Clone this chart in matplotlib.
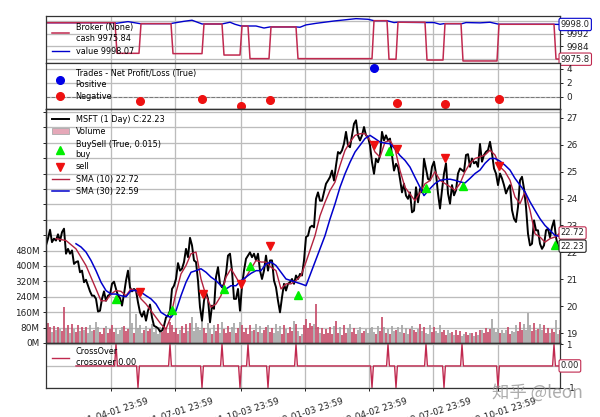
import matplotlib
matplotlib.use('Agg')
import matplotlib.pyplot as plt
import numpy as np
from matplotlib.patches import Patch
from matplotlib.transforms import Bbox, TransformedBbox, IdentityTransform

close = [22.26,22.51,22.84,22.38,22.51,22.44,22.67,22.42,22.75,22.88,21.95,22.13,21.95,22.07,21.57,21.64,21.67,21.26,21.32,20.89,
20.98,20.76,20.55,20.39,20.39,20.27,19.80,19.83,20.27,20.55,20.2,20.39,20.43,20.83,20.91,20.64,20.39,20.3,20.02,20.45,
20.95,21.32,20.7,20.55,20.64,20.58,20.14,19.77,19.61,19.81,19.46,19.83,20.06,19.58,19.27,19.23,19.18,19.06,19.09,19.27,
19.58,19.65,19.83,20.64,20.76,21.01,
21.6,21.32,21.39,21.64,22.13,21.82,22.54,22.26,21.7,21.64,20.95,19.96,19.46,20.2,20.52,20.27,19.4,20.02,19.9,21.08,
21.45,20.83,20.7,20.83,21.2,21.88,21.95,21.32,20.27,20.27,20.64,19.83,20.76,21.32,21.76,21.88,22.0,21.82,21.95,21.7,
21.95,21.32,21.01,21.32,21.88,21.32,21.7,21.7,20.95,20.7,20.2,19.77,20.33,20.83,20.58,20.83,20.89,21.01,20.83,21.14,
21.01,21.2,21.14,21.7,22.57,
22.62,22.93,22.99,22.93,23.99,24.23,23.92,23.92,24.23,24.55,24.67,24.8,25.04,24.67,25.23,25.73,25.67,25.79,26.04,26.48,
25.98,25.91,26.35,26.78,26.91,26.35,26.16,26.35,26.66,26.35,26.29,25.98,25.35,24.92,25.48,25.35,25.6,26.48,26.16,26.35,
26.16,26.23,25.6,25.04,25.29,25.17,24.73,24.23,24.55,24.11,23.99,24.23,23.49,23.55,24.42,23.86,24.36,24.23,25.48,25.1,
24.73,
24.68,25.18,25.37,24.93,24.19,23.63,24.31,24.93,25.31,24.19,23.81,24.5,24.12,24.31,24.93,25.12,25.06,25.0,25.62,25.65,
25.18,25.49,25.31,25.37,25.18,26.03,25.37,25.62,25.74,25.8,26.11,25.68,25.12,24.93,24.5,24.93,24.75,24.5,24.19,24.37,
24.5,23.57,23.25,23.13,23.69,24.68,24.81,24.37,23.69,22.69,22.26,22.32,23.19,22.82,22.82,22.32,22.13,22.26,22.82,22.88,
22.56,22.94,23.19,22.56,22.2,22.23]

volume_m = [60,105,85,55,90,70,85,75,60,185,80,95,50,100,75,55,95,60,85,70,
85,50,95,60,70,110,85,55,45,80,90,50,75,95,55,80,45,65,85,90,
60,75,395,105,50,150,80,95,50,70,90,60,75,100,55,90,45,85,55,95,
80,50,110,95,55,80,45,70,90,50,100,60,105,135,60,105,85,65,135,80,
50,105,75,45,95,60,100,50,110,75,50,90,55,85,105,50,80,110,95,55,
80,45,95,60,70,100,55,90,50,65,85,95,55,80,50,100,60,90,45,95,
75,50,85,60,115,100,60,35,45,95,125,80,105,90,100,205,85,50,80,45,
75,50,85,45,90,115,50,85,40,95,50,80,100,55,80,45,70,85,50,60,
75,50,80,85,55,45,90,60,133,85,50,75,45,90,60,70,85,55,95,50,
80,45,75,90,65,55,75,100,60,85,50,45,95,55,85,60,50,95,55,70,
40,65,50,55,40,65,42,60,38,48,55,40,52,50,38,55,40,65,70,50,
80,55,75,125,80,55,75,50,70,50,65,85,45,60,55,95,60,110,70,100,
65,157,95,60,105,70,75,100,65,95,50,80,50,75,55,120,45,65]

sma10_bar = [5,10,15,20,25,27.5,30,32.5,35,37.5,40,42.5,45,47.5,50,52.5,55,57.5,60,62,65,
67.5,70,72.5,75,77.5,80,82.5,85,87.5,90,92.5,95,97.5,100,102.5,105,107.5,110,112.5,115,117.5,120,122.5,125,127.5,130,
134.5,137,139.5,142,144.5,147,149.5,152,154.5,157,159.5,162,164.5,167,169.5,172,174.5,177,179.5,182,184.5,187,189.5,192,
194.5,197,199.5,202,204.5,207,209.5,212,214.5,217,219.5,222,224.5,227,229.5,232,234.5,237,239.5,242,244.5,247,249.5,252,254.5,257]
sma10 = [22.51,22.44,22.13,21.51,20.64,20.2,20.2,20.45,20.58,20.55,20.39,20.64,20.58,20.27,20.08,19.83,19.58,19.33,19.15,19.52,20.5,
21.2,21.51,21.95,22.01,21.01,20.39,19.96,20.08,20.39,21.08,21.39,21.08,20.76,21.08,21.39,21.7,21.64,21.64,21.45,21.32,20.64,20.83,20.83,20.95,21.14,21.64,
22.62,23.36,23.86,24.3,24.61,25.23,25.79,26.1,26.35,26.41,26.41,26.16,25.73,25.54,26.1,26.16,25.85,25.04,24.42,24.17,23.92,24.23,24.55,24.67,
25.0,24.68,24.56,24.44,24.31,24.56,25.0,25.31,25.49,25.55,25.62,25.8,25.62,25.18,25.0,24.68,24.06,23.81,24.25,23.57,22.69,22.57,22.38,22.51,22.57,22.72]

sma30_bar = [15,17.5,20,22.5,25,27.5,30,32.5,35,37.5,40,42.5,45,47.5,50,52.5,55,57.5,60,62.5,65,
67.5,70,72.5,75,77.5,80,82.5,85,87.5,90,92.5,95,97.5,100,102.5,105,107.5,110,112.5,115,117.5,120,122.5,125,127.5,130,
139.5,142,144.5,147,149.5,152,154.5,157,159.5,162,164.5,167,169.5,172,174.5,177,179.5,182,184.5,187,189,
192,194.5,197,199.5,202,204.5,207,209.5,212,214.5,217,219.5,222,224.5,227,229.5,232,234.5,237,239.5,242,244.5,247,249.5,252,254.5,257]
sma30 = [22.32,22.2,22.01,21.7,21.32,20.89,20.58,20.45,20.45,20.39,20.35,20.58,20.58,20.52,20.39,20.27,20.08,19.77,19.65,19.58,19.83,
20.39,20.89,21.26,21.32,21.39,21.26,21.08,20.95,20.76,20.64,20.76,20.76,20.95,21.08,21.22,21.32,21.32,21.57,21.64,21.51,21.26,21.01,20.95,20.89,20.83,20.76,
22.62,23.24,23.8,24.42,24.92,25.35,25.73,25.98,26.23,26.35,26.23,26.1,26.06,26.04,25.85,25.6,25.42,25.17,24.79,24.42,24.11,
24.37,24.56,24.68,24.71,24.72,24.68,24.62,24.58,24.75,24.93,25.06,25.31,25.49,25.49,25.39,25.24,25.06,24.75,24.5,24.25,23.88,23.56,23.25,23.0,22.82,22.63,22.59]

buy_bar = [35,63,89,102,126,171.5,190,208.5,254.5]
buy_price = [20.25,19.87,20.62,21.48,20.4,25.77,24.39,24.46,22.26]
sell_bar = [47,78.5,97.5,112,164,175.5,199.5,226.5]
sell_price = [20.51,20.47,20.84,22.22,25.99,25.84,25.51,25.21]

cash_bar = [0,34.5,35.5,46.5,47.5,62.5,63.5,78,79,88,89,97,98,101,102,111.5,112.5,125,126,163,164,170.5,171.5,175,176,189.5,190.5,198.5,199.5,207.5,208.5,225.5,226.5,254,255,257]
cash = [9999.2,9999.2,9979.6,9979.6,9998.6,9998.6,9979.4,9979.4,9998.4,9998.4,9978.5,9978.5,9997.1,9997.1,9976.2,9976.2,9996.5,9996.5,9976.2,9976.2,10000.5,10000.5,9975.8,9975.8,9999.5,9999.5,9975.3,9975.3,9998.6,9998.6,9974.7,9974.7,9998.2,9998.2,9976.0,9975.84]
value_bar = [0,34.5,35,41,47,62.5,63,69,73,78,88,92,94.5,97.5,101,105,109,112,125,127,130,135,144,155,161,164,170.5,174,175.5,190,194,197,199,208,210,217,222,226.5,254,257]
value = [9999.2,9999.2,9998.8,9999.9,9998.6,9998.6,9998.8,10000.1,10000.8,9998.4,9998.4,9999.5,9998.2,9997.1,9997.1,9997.1,9995.8,9996.5,9996.5,9996.3,9997.8,9998.8,10000.3,10001.8,10001.4,10000.5,10000.5,9999.3,9999.5,9999.3,9999.3,9998.2,9998.6,9998.6,9999.3,9999.1,9999.5,9998.2,9998.2,9998.07]

win_bar = [164]
win_pnl = [4.2]
loss_bar = [47,78,97.5,112,175.5,199.5,226.5]
loss_pnl = [-0.65,-0.3,-1.33,-0.55,-1.0,-1.1,-0.4]

cross_up = [35,62,88,101,125,171,190,208,254]
cross_down = [46,78,97,111,163,175,199,226]
cross_start = 15

tick_bars = [32.25,64.5,97.5,129.5,161.5,193.5,226]
tick_dates = ['2011-04-01 23:59','2011-07-01 23:59','2011-10-03 23:59','2012-01-03 23:59',
              '2012-04-02 23:59','2012-07-02 23:59','2012-10-01 23:59']

W, H = 600, 417
fig = plt.figure(figsize=(6, 4.17), dpi=100)
def mk(top, bot, **kw):
    return fig.add_axes([46/W, 1-bot/H, 514/W, (bot-top)/H], **kw)

RED = '#c0294f'
BLUE = '#0000cc'
GRID = '#bcbcbc'
FS = 6.4
LFS = 5.9
XLIM = (0, 257)
LEG = dict(loc='upper left', frameon=False, fontsize=LFS, handlelength=2.1, handletextpad=0.8, borderaxespad=0.3)

ax1 = mk(16, 63)
ax2 = mk(63, 109)
axv = mk(109, 343)
ax4 = mk(343, 388)

for ax in (ax1, ax2, axv, ax4):
    ax.set_xlim(*XLIM)
    ax.set_xticks(tick_bars)
    ax.grid(True, color=GRID, lw=0.95)
    ax.set_axisbelow(True)
    for s in ax.spines.values():
        s.set_color('#333333'); s.set_linewidth(0.9)
    ax.tick_params(labelsize=FS, length=2.5, width=0.7, colors='#222222', pad=2)
    ax.tick_params(axis='x', labelbottom=False, bottom=False)
    ax.yaxis.tick_right()

# Broker
ax1.set_ylim(9973.4, 10003.5)
ax1.set_yticks([9976, 9984, 9992, 10000])
ax1.set_yticklabels(['', '9984', '9992', ''])
l1, = ax1.plot(cash_bar, cash, color=RED, lw=1.1, label='Broker (None)\ncash 9975.84')
l2, = ax1.plot(value_bar, value, color=BLUE, lw=1.0, label='value 9998.07', zorder=1.9)
ax1.legend(handles=[l1, l2], bbox_to_anchor=(0.0, 0.97), labelspacing=0.55, **LEG)

# Trades
ax2.set_ylim(-1.81, 4.86)
ax2.set_yticks([0, 2, 4])
ax2.axhline(0, color='#777777', lw=0.7, ls='--')
h1, = ax2.plot(win_bar, win_pnl, 'o', color='#0000e6', ms=5.5, ls='none', label='Trades - Net Profit/Loss (True)\nPositive', clip_on=False)
h2, = ax2.plot(loss_bar, loss_pnl, 'o', color='#ee1111', ms=5.5, ls='none', label='Negative')
ax2.legend(handles=[h1, h2], bbox_to_anchor=(0.0, 0.99), labelspacing=0.45, **LEG)

# Volume
bars = np.arange(len(volume_m))
vol_col = ['#c64a68' if i == 0 or close[i] >= close[i-1] else '#a4a4a4' for i in bars]
axv.bar(bars, volume_m, width=0.72, color=vol_col, alpha=0.85, lw=0)
axv.yaxis.tick_left()
axv.set_ylim(0, 1215)
vt = np.arange(0, 1201, 80)
axv.set_yticks(vt)
axv.set_yticklabels(['%dM' % v if v <= 480 else '' for v in vt])
clip = TransformedBbox(Bbox([[17, 0], [600, 417]]), IdentityTransform())
for lb in axv.get_yticklabels():
    lb.set_clip_box(clip); lb.set_clip_on(True)

# Price
axp = axv.twinx()
axp.set_xlim(*XLIM)
axp.set_ylim(18.63, 27.33)
axp.set_yticks(range(19, 28))
axp.tick_params(labelsize=FS, length=2.5, width=0.7, colors='#222222', pad=2)
axp.grid(False)
for s in axp.spines.values():
    s.set_color('#333333'); s.set_linewidth(0.9)
lc, = axp.plot(np.arange(len(close)), close, color='black', lw=1.4, label='MSFT (1 Day) C:22.23')
ls10, = axp.plot(sma10_bar, sma10, color='#b2223f', lw=1.0, label='SMA (10) 22.72')
ls30, = axp.plot(sma30_bar, sma30, color=BLUE, lw=1.1, label='SMA (30) 22.59')
hb, = axp.plot(buy_bar, buy_price, '^', color='#00ee00', ms=6.2, ls='none', label='BuySell (True, 0.015)\nbuy', clip_on=False)
hs, = axp.plot(sell_bar, sell_price, 'v', color='#ee1111', ms=6.2, ls='none', label='sell')
vp = Patch(facecolor='#e5a8b8', edgecolor='#aaaaaa', lw=0.6, label='Volume')
axp.legend(handles=[lc, vp, hb, hs, ls10, ls30], bbox_to_anchor=(0.0, 1.0), labelspacing=0.42, **LEG)

# CrossOver
ax4.set_ylim(-1.02, 1.06)
ax4.set_yticks([-1, 0, 1])
ax4.set_yticklabels(['-1', '', '1'])
cx, cy = [cross_start], [0]
for b, sign in sorted([(b, 1) for b in cross_up] + [(b, -1) for b in cross_down]):
    cx += [b-0.7, b, b+0.7]
    cy += [0, sign, 0]
cx.append(len(close)-1); cy.append(0)
lx, = ax4.plot(cx, cy, color=RED, lw=1.0, label='CrossOver\ncrossover 0.00')
ax4.legend(handles=[lx], bbox_to_anchor=(0.0, 1.03), **LEG)

ax4.tick_params(axis='x', labelbottom=True, bottom=True, pad=4)
ax4.set_xticklabels(tick_dates, rotation=18, ha='center', fontsize=FS)

# value tags
def tag(ax, y, txt, ec):
    ax.annotate(txt, xy=(1.0, y), xycoords=ax.get_yaxis_transform(), xytext=(0.5, 0), textcoords='offset points',
                va='center', ha='left', fontsize=6.0, color='#222222', annotation_clip=False, zorder=10,
                bbox=dict(boxstyle='round,pad=0.2', fc='white', ec=ec, lw=0.8))
tag(ax1, 9998.07, '9998.0', BLUE)
tag(ax1, 9975.84, '9975.8', RED)
tag(axp, 22.72, '22.72', RED)
tag(axp, 22.23, '22.23', '#222222')
tag(ax4, 0, '0.00', RED)

fig.text(537/W, 1-393/H, '知乎 @leon', fontsize=12.5, color='#8a8a8a', alpha=0.7, ha='center', va='center',
         family=['Noto Sans CJK SC', 'DejaVu Sans'])

fig.savefig('out.png', dpi=100)
